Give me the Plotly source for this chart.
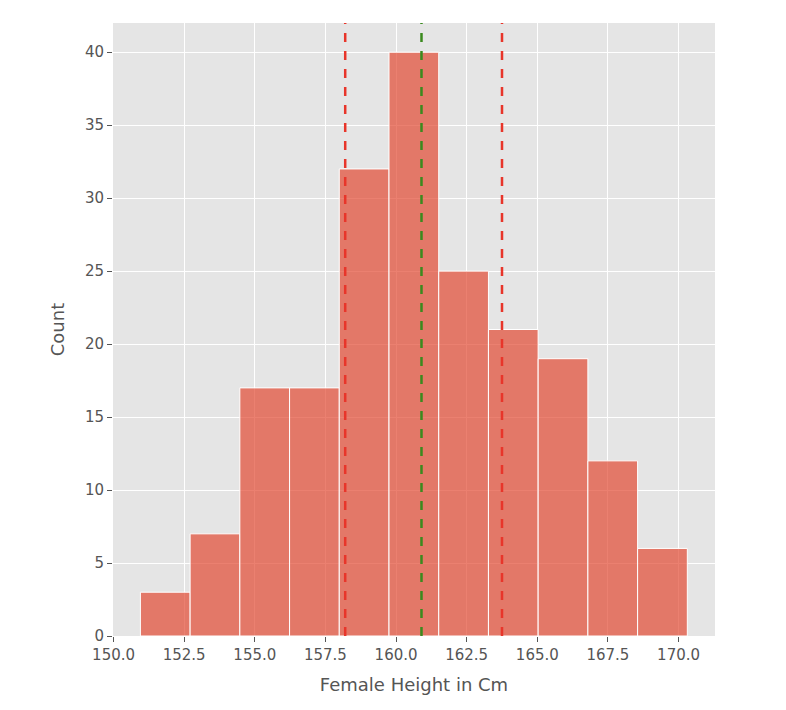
import numpy as np
import plotly.graph_objects as go

# histogram bins
bin_start = 150.95
bin_width = 1.76
counts = [3, 7, 17, 17, 32, 40, 25, 21, 19, 12, 6]
lower_line = 158.2
mean_line = 160.9
upper_line = 163.75
x_ticks = [150.0, 152.5, 155.0, 157.5, 160.0, 162.5, 165.0, 167.5, 170.0]
y_ticks = [0, 5, 10, 15, 20, 25, 30, 35, 40]

centers = [bin_start + bin_width * (i + 0.5) for i in range(len(counts))]

fig = go.Figure(go.Bar(
    x=centers, y=counts, width=bin_width,
    marker=dict(color="rgba(226,74,51,0.7)", line=dict(color="white", width=1)),
))

for xv, col in [(lower_line, "#E8352A"), (upper_line, "#E8352A"), (mean_line, "#3A8A1E")]:
    fig.add_vline(x=xv, line=dict(color=col, width=2.5, dash="dash"))

axis_font = dict(family="DejaVu Sans", size=15, color="#555555")
fig.update_layout(
    width=786, height=710,
    margin=dict(l=105, r=79, t=15, b=82),
    plot_bgcolor="#E5E5E5", paper_bgcolor="white",
    showlegend=False,
    font=dict(family="DejaVu Sans"),
    xaxis=dict(range=[149.98, 171.29], tickvals=x_ticks,
               ticktext=[f"{v:.1f}" for v in x_ticks],
               gridcolor="white", gridwidth=1, zeroline=False,
               ticks="outside", tickcolor="#555555", ticklen=5,
               tickfont=axis_font,
               title=dict(text="Female Height in Cm", font=dict(size=18, color="#555555"))),
    yaxis=dict(range=[0, 42], tickvals=y_ticks,
               gridcolor="white", gridwidth=1, zeroline=False,
               ticks="outside", tickcolor="#555555", ticklen=5,
               tickfont=axis_font,
               title=dict(text="Count", font=dict(size=18, color="#555555"))),
)

fig.write_html("out.html")
